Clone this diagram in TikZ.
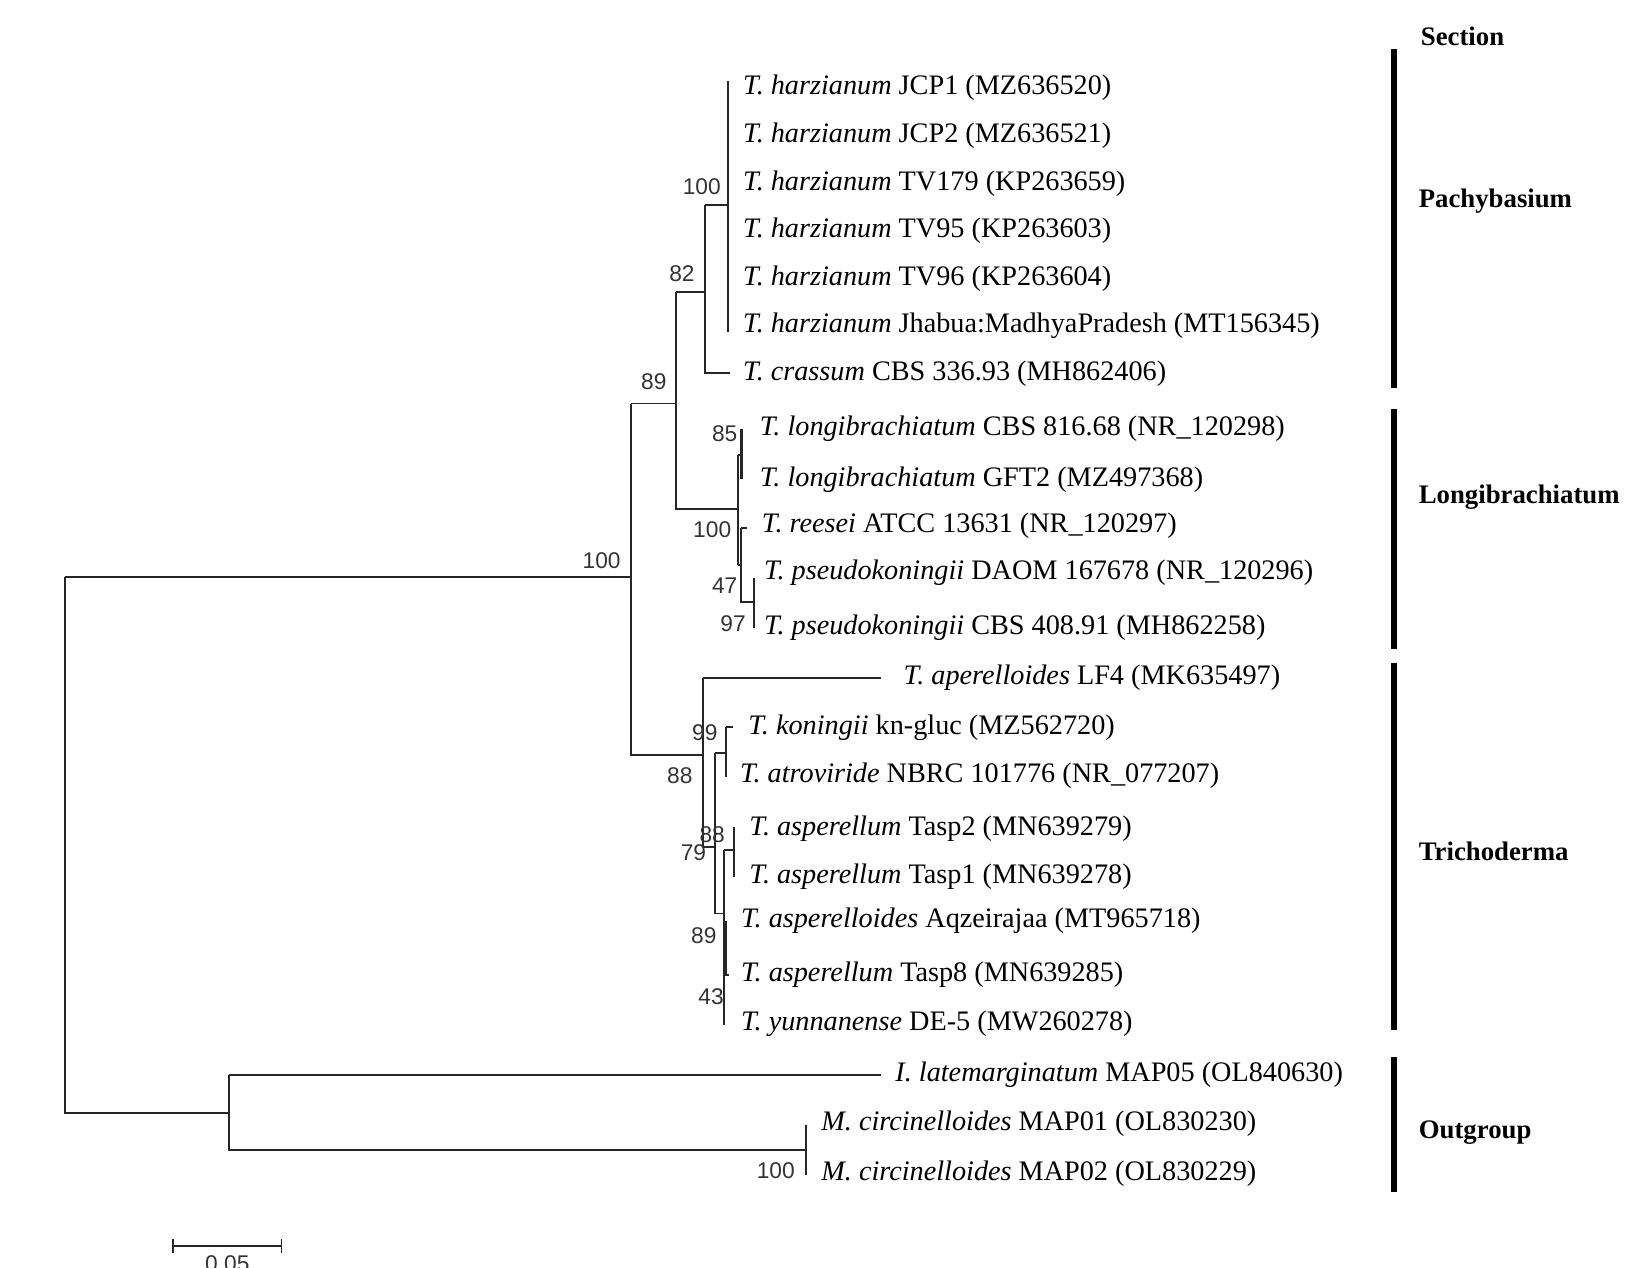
\documentclass[tikz,border=0pt]{standalone}
\usepackage{fontspec}
\setmainfont{Liberation Serif}
\newfontfamily\arialf{Liberation Sans}
\begin{document}
\begin{tikzpicture}[x=0.01cm,y=-0.01cm,
  br/.style={line width=0.5pt,black!85},
  leaf/.style={anchor=west,inner sep=0pt,font=\fontsize{7.7}{9}\selectfont},
  bs/.style={inner sep=0pt,font=\arialf\fontsize{6.2}{7}\selectfont,text=black!80},
  sec/.style={anchor=west,inner sep=0pt,font=\bfseries\fontsize{7.3}{9}\selectfont},
  bar/.style={line width=1.6pt}]
\useasboundingbox (0,0) rectangle (1568,1216);
% internal nodes
\coordinate (r) at (62,553);
\coordinate (a) at (605,553);
\coordinate (b) at (648,387);
\coordinate (c) at (676,280);
\coordinate (d) at (698,197);
\coordinate (lA) at (708,488);
\coordinate (lB) at (711,436);
\coordinate (lC) at (711,542);
\coordinate (lD) at (723,577);
\coordinate (e) at (674,724);
\coordinate (f) at (686,812);
\coordinate (g) at (696,722);
\coordinate (h) at (694,876);
\coordinate (i) at (704,815);
\coordinate (o) at (220,1067);
\coordinate (m) at (773,1103);
% leaves
\node[leaf] (p1) at (712,84) {\textit{T. harzianum} JCP1 (MZ636520)};
\node[leaf] (p2) at (712,130) {\textit{T. harzianum} JCP2 (MZ636521)};
\node[leaf] (p3) at (712,176) {\textit{T. harzianum} TV179 (KP263659)};
\node[leaf] (p4) at (712,221) {\textit{T. harzianum} TV95 (KP263603)};
\node[leaf] (p5) at (712,267) {\textit{T. harzianum} TV96 (KP263604)};
\node[leaf] (p6) at (712,312) {\textit{T. harzianum} Jhabua:MadhyaPradesh (MT156345)};
\node[leaf] (p7) at (712,358) {\textit{T. crassum} CBS 336.93 (MH862406)};
\node[leaf] (l1) at (728,411) {\textit{T. longibrachiatum} CBS 816.68 (NR\_120298)};
\node[leaf] (l2) at (728,460) {\textit{T. longibrachiatum} GFT2 (MZ497368)};
\node[leaf] (l3) at (730,504) {\textit{T. reesei} ATCC 13631 (NR\_120297)};
\node[leaf] (l4) at (732,549) {\textit{T. pseudokoningii} DAOM 167678 (NR\_120296)};
\node[leaf] (l5) at (732,602) {\textit{T. pseudokoningii} CBS 408.91 (MH862258)};
\node[leaf] (t1) at (866,650) {\textit{T. aperelloides} LF4 (MK635497)};
\node[leaf] (t2) at (717,698) {\textit{T. koningii} kn-gluc (MZ562720)};
\node[leaf] (t3) at (709,744) {\textit{T. atroviride} NBRC 101776 (NR\_077207)};
\node[leaf] (t4) at (718,795) {\textit{T. asperellum} Tasp2 (MN639279)};
\node[leaf] (t5) at (718,841) {\textit{T. asperellum} Tasp1 (MN639278)};
\node[leaf] (t6) at (710,883) {\textit{T. asperelloides} Aqzeirajaa (MT965718)};
\node[leaf] (t7) at (710,935) {\textit{T. asperellum} Tasp8 (MN639285)};
\node[leaf] (t8) at (710,982) {\textit{T. yunnanense} DE-5 (MW260278)};
\node[leaf] (g1) at (858,1031) {\textit{I. latemarginatum} MAP05 (OL840630)};
\node[leaf] (g2) at (787,1078) {\textit{M. circinelloides} MAP01 (OL830230)};
\node[leaf] (g3) at (787,1126) {\textit{M. circinelloides} MAP02 (OL830229)};
% branches
\draw[br] (r |- 0,553) -- (a);
\draw[br] (r) -- (r |- 0,1067) -- (o);
\draw[br] (605,387) -- (605,724) -- (e);
\draw[br] (605,387) -- (b);
\draw[br] (648,280) -- (648,488) -- (lA);
\draw[br] (648,280) -- (c);
\draw[br] (676,197) -- (676,358) -- (700,358);
\draw[br] (676,197) -- (d);
\draw[br] (698,78) -- (698,318);
\draw[br] (708,436) -- (708,542);
\draw[br] (708,436) -- (lB); \draw[br] (708,542) -- (lC);
\draw[br,line width=0.9pt] (711,411) -- (711,459);
\draw[br] (711,506) -- (711,577) -- (lD);
\draw[br] (711,506) -- (716,506);
\draw[br] (723,554) -- (723,602);
\draw[br] (674,650) -- (674,812) -- (f);
\draw[br] (674,650) -- (845,650);
\draw[br] (686,722) -- (686,876) -- (h);
\draw[br] (686,722) -- (g);
\draw[br] (696,697) -- (696,745);
\draw[br] (696,697) -- (703,697);
\draw[br] (694,815) -- (694,983);
\draw[br] (694,815) -- (i);
\draw[br] (704,793) -- (704,841);
\draw[br,line width=1.1pt] (695,883) -- (695,935);
\draw[br] (695,935) -- (699,935);
\draw[br] (220,1031) -- (220,1103) -- (m);
\draw[br] (220,1031) -- (845,1031);
\draw[br] (773,1079) -- (773,1127);
% bootstrap
\node[bs] at (577,538) {100};
\node[bs] at (627,366) {89};
\node[bs] at (654,262) {82};
\node[bs] at (673,179) {100};
\node[bs] at (695,416) {85};
\node[bs] at (683,508) {100};
\node[bs] at (695,562) {47};
\node[bs] at (703,598) {97};
\node[bs] at (676,703) {99};
\node[bs] at (652,744) {88};
\node[bs] at (683,800) {88};
\node[bs] at (665,818) {79};
\node[bs] at (675,897) {89};
\node[bs] at (682,956) {43};
\node[bs] at (744,1123) {100};
% scale bar
\coordinate (s1) at (166,1195); \coordinate (s2) at (270,1195);
\draw[br] (s1) -- (s2);
\draw[br] (166,1188) -- (166,1202); \draw[br] (270,1188) -- (270,1202);
\node[bs,anchor=north] at (218,1203) {0.05};
% sections
\node[sec] (sh) at (1362,35) {Section};
\draw[bar] (1337,47) -- (1337,372);
\draw[bar] (1337,392) -- (1337,622);
\draw[bar] (1337,636) -- (1337,988);
\draw[bar] (1337,1014) -- (1337,1143);
\node[sec] at (1360,193) {Pachybasium};
\node[sec] at (1360,477) {Longibrachiatum};
\node[sec] at (1360,816) {Trichoderma};
\node[sec] at (1360,1086) {Outgroup};
\end{tikzpicture}
\end{document}
